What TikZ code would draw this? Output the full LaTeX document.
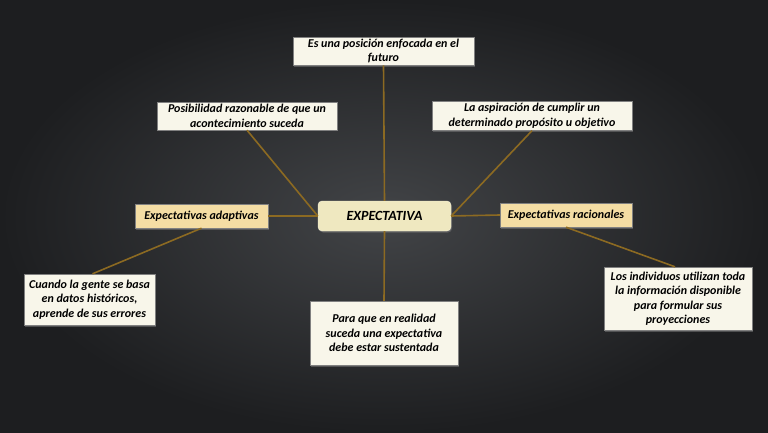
\documentclass[tikz,border=0pt]{standalone}
\usepackage{fontspec}
\setmainfont{Carlito}
\usetikzlibrary{shadows}
\definecolor{fondo}{HTML}{424447}
\definecolor{borde}{HTML}{1D1E20}
\definecolor{linea}{HTML}{8C6A22}
\definecolor{marfil}{HTML}{F8F6EA}
\definecolor{crema}{HTML}{EFE8C0}
\definecolor{tostado}{HTML}{F4DDA4}
\tikzset{
  >= latex,
  bx/.style={rectangle, draw=black!50, fill=marfil, align=center, inner sep=2pt,
    font=\bfseries\itshape\fontsize{12}{14.5}\selectfont,
    drop shadow={shadow xshift=1pt, shadow yshift=-1.5pt, opacity=.5}},
  tp/.style={bx, fill=tostado},
  ce/.style={bx, fill=crema, draw=crema!60!white, rounded corners=4pt,
    font=\bfseries\itshape\fontsize{14}{16}\selectfont},
  ln/.style={draw=linea, line width=1.6pt}
}
\begin{document}
\begin{tikzpicture}[x=1pt, y=-1pt]
  \useasboundingbox (0,0) rectangle (768,433);
  \shade[inner color=fondo, outer color=borde] (0,0) rectangle (768,433);

  % central
  \node[ce, minimum width=133pt, minimum height=30pt] (exp) at (384.5,216) {EXPECTATIVA};

  % primer nivel
  \node[bx, minimum width=181pt, minimum height=28pt] (fut) at (383.5,51)
    {Es una posición enfocada en el\\futuro};
  \node[bx, minimum width=180pt, minimum height=28pt] (pos) at (247,116)
    {Posibilidad razonable de que un\\acontecimiento suceda};
  \node[bx, minimum width=200pt, minimum height=28pt] (asp) at (532,116)
    {La aspiración de cumplir un\\determinado propósito u objetivo};
  \node[tp, minimum width=133pt, minimum height=24pt] (ada) at (201.5,216)
    {Expectativas adaptivas};
  \node[tp, minimum width=132pt, minimum height=24pt] (rac) at (566,215)
    {Expectativas racionales};
  \node[bx, minimum width=148pt, minimum height=64pt] (rea) at (384,333)
    {Para que en realidad\\suceda una expectativa\\debe estar sustentada};

  % segundo nivel
  \node[bx, minimum width=131pt, minimum height=51pt] (cua) at (89.5,299.5)
    {Cuando la gente se basa\\en datos históricos,\\aprende de sus errores};
  \node[bx, minimum width=148pt, minimum height=63pt] (ind) at (678,298.5)
    {Los individuos utilizan toda\\la información disponible\\para formular sus\\proyecciones};

  % conectores
  \path[ln] (fut.south) -- (exp.north);
  \path[ln] (pos.south) -- (exp.west);
  \path[ln] (asp.south) -- (exp.east);
  \path[ln] (ada.east) -- (exp.west);
  \path[ln] (rac.west) -- (exp.east);
  \path[ln] (exp.south) -- (rea.north);
  \path[ln] (ada.south) -- ([xshift=3pt]cua.north);
  \path[ln] (rac.south) -- ([xshift=-3pt]ind.north);
\end{tikzpicture}
\end{document}
